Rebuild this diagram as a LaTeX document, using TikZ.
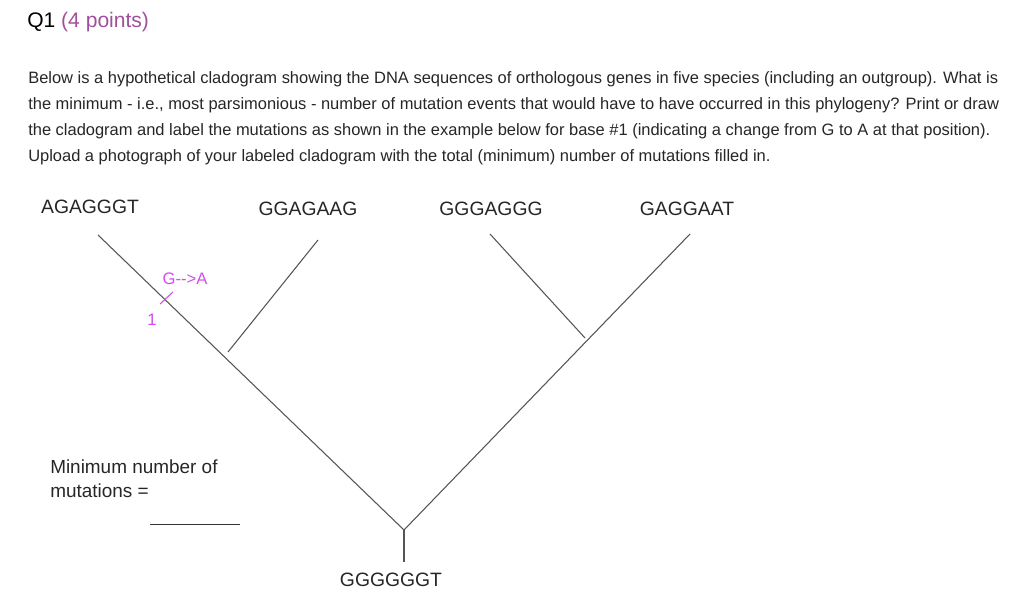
\documentclass[tikz,border=0pt]{standalone}
\usepackage{fontspec}
\setmainfont{Liberation Sans}
\definecolor{mut}{HTML}{D24CF0}
\definecolor{qpts}{HTML}{A0509A}
\definecolor{br}{HTML}{555555}
\begin{document}
\begin{tikzpicture}[x=0.75pt,y=-0.75pt,
  txt/.style={inner sep=0,anchor=west,font=\fontsize{12.35}{18}\selectfont,text=black!85},
  seq/.style={inner sep=0,font=\fontsize{14.5}{16}\selectfont,text=black!85},
  branch/.style={draw=br,line width=0.8pt}]
\useasboundingbox (0,0) rectangle (1024,616);
\node[inner sep=0,anchor=west,font=\fontsize{15.8}{18}\selectfont] (q) at (27,22) {Q1 \textcolor{qpts}{(4 points)}};
\node[txt] (l1) at (28,79) {Below is a hypothetical cladogram showing the DNA sequences of orthologous genes in five species (including an outgroup). What is};
\node[txt] (l2) at (28,105) {the minimum - i.e., most parsimonious - number of mutation events that would have to have occurred in this phylogeny? Print or draw};
\node[txt] (l3) at (28,131) {the cladogram and label the mutations as shown in the example below for base \#1 (indicating a change from G to A at that position).};
\node[txt] (l4) at (28,157) {Upload a photograph of your labeled cladogram with the total (minimum) number of mutations filled in.};
\node[seq] (s1) at (90,207) {AGAGGGT};
\node[seq] (s2) at (308,209) {GGAGAAG};
\node[seq] (s3) at (491,209) {GGGAGGG};
\node[seq] (s4) at (687,209) {GAGGAAT};
\node[seq] (s0) at (391,580) {GGGGGGT};
\coordinate (t1) at (98,235);
\coordinate (t2) at (318,240);
\coordinate (t3) at (490,234);
\coordinate (t4) at (690,234);
\coordinate (root) at (404,530);
\coordinate (base) at (404,562);
\coordinate (n2) at (228,352);
\coordinate (n3) at (585,338);
\draw[branch] (t1) -- (root) -- (t4);
\draw[branch] (root) -- (base);
\draw[branch] (t2) -- (n2);
\draw[branch] (t3) -- (n3);
\coordinate (m1) at (160,304);
\coordinate (m2) at (173,292);
\draw[mut,line width=0.8pt] (m1) -- (m2);
\node[inner sep=0,font=\fontsize{12.5}{14}\selectfont,text=mut] (ga) at (185,279) {G-{}->A};
\node[inner sep=0,font=\fontsize{12.5}{14}\selectfont,text=mut] (one) at (152,320) {1};
\node[txt,align=left,anchor=north west,font=\fontsize{14.2}{18}\selectfont] (min) at (50,460) {Minimum number of\\mutations =};
\coordinate (u1) at (150,524);
\coordinate (u2) at (240,524);
\draw[black!80,line width=0.6pt] (u1) -- (u2);
\end{tikzpicture}
\end{document}
